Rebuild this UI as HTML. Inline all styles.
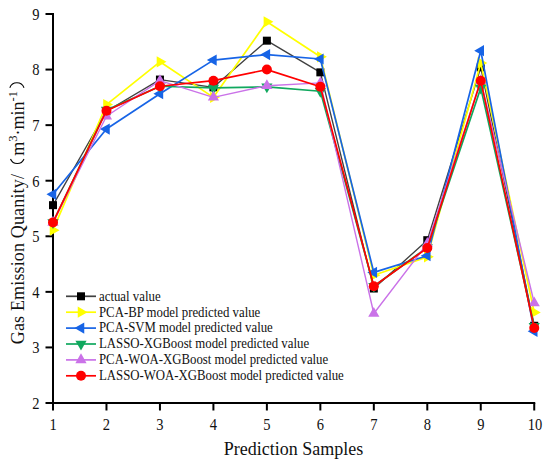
<!DOCTYPE html>
<html><head><meta charset="utf-8"><style>
html,body{margin:0;padding:0;background:#fff;}
svg{display:block;font-family:"Liberation Serif",serif;}
text{fill:#111;}
</style></head><body>
<svg width="550" height="465" viewBox="0 0 550 465">
<line x1="53.0" y1="13.0" x2="53.0" y2="404.0" stroke="#000" stroke-width="2"/>
<line x1="52.0" y1="403.0" x2="535.23" y2="403.0" stroke="#000" stroke-width="2"/>
<line x1="45.5" y1="403.00" x2="53.0" y2="403.00" stroke="#000" stroke-width="2"/>
<line x1="45.5" y1="347.43" x2="53.0" y2="347.43" stroke="#000" stroke-width="2"/>
<line x1="45.5" y1="291.86" x2="53.0" y2="291.86" stroke="#000" stroke-width="2"/>
<line x1="45.5" y1="236.29" x2="53.0" y2="236.29" stroke="#000" stroke-width="2"/>
<line x1="45.5" y1="180.71" x2="53.0" y2="180.71" stroke="#000" stroke-width="2"/>
<line x1="45.5" y1="125.14" x2="53.0" y2="125.14" stroke="#000" stroke-width="2"/>
<line x1="45.5" y1="69.57" x2="53.0" y2="69.57" stroke="#000" stroke-width="2"/>
<line x1="45.5" y1="14.00" x2="53.0" y2="14.00" stroke="#000" stroke-width="2"/>
<line x1="53.00" y1="403.0" x2="53.00" y2="410.5" stroke="#000" stroke-width="2"/>
<line x1="106.47" y1="403.0" x2="106.47" y2="410.5" stroke="#000" stroke-width="2"/>
<line x1="159.94" y1="403.0" x2="159.94" y2="410.5" stroke="#000" stroke-width="2"/>
<line x1="213.41" y1="403.0" x2="213.41" y2="410.5" stroke="#000" stroke-width="2"/>
<line x1="266.88" y1="403.0" x2="266.88" y2="410.5" stroke="#000" stroke-width="2"/>
<line x1="320.35" y1="403.0" x2="320.35" y2="410.5" stroke="#000" stroke-width="2"/>
<line x1="373.82" y1="403.0" x2="373.82" y2="410.5" stroke="#000" stroke-width="2"/>
<line x1="427.29" y1="403.0" x2="427.29" y2="410.5" stroke="#000" stroke-width="2"/>
<line x1="480.76" y1="403.0" x2="480.76" y2="410.5" stroke="#000" stroke-width="2"/>
<line x1="534.23" y1="403.0" x2="534.23" y2="410.5" stroke="#000" stroke-width="2"/>
<text transform="translate(35.8,408.80) scale(0.88,1)" text-anchor="middle" font-size="16.5">2</text>
<text transform="translate(35.8,353.23) scale(0.88,1)" text-anchor="middle" font-size="16.5">3</text>
<text transform="translate(35.8,297.66) scale(0.88,1)" text-anchor="middle" font-size="16.5">4</text>
<text transform="translate(35.8,242.09) scale(0.88,1)" text-anchor="middle" font-size="16.5">5</text>
<text transform="translate(35.8,186.51) scale(0.88,1)" text-anchor="middle" font-size="16.5">6</text>
<text transform="translate(35.8,130.94) scale(0.88,1)" text-anchor="middle" font-size="16.5">7</text>
<text transform="translate(35.8,75.37) scale(0.88,1)" text-anchor="middle" font-size="16.5">8</text>
<text transform="translate(35.8,19.80) scale(0.88,1)" text-anchor="middle" font-size="16.5">9</text>
<text transform="translate(53.00,429.6) scale(0.88,1)" text-anchor="middle" font-size="16.5">1</text>
<text transform="translate(106.47,429.6) scale(0.88,1)" text-anchor="middle" font-size="16.5">2</text>
<text transform="translate(159.94,429.6) scale(0.88,1)" text-anchor="middle" font-size="16.5">3</text>
<text transform="translate(213.41,429.6) scale(0.88,1)" text-anchor="middle" font-size="16.5">4</text>
<text transform="translate(266.88,429.6) scale(0.88,1)" text-anchor="middle" font-size="16.5">5</text>
<text transform="translate(320.35,429.6) scale(0.88,1)" text-anchor="middle" font-size="16.5">6</text>
<text transform="translate(373.82,429.6) scale(0.88,1)" text-anchor="middle" font-size="16.5">7</text>
<text transform="translate(427.29,429.6) scale(0.88,1)" text-anchor="middle" font-size="16.5">8</text>
<text transform="translate(480.76,429.6) scale(0.88,1)" text-anchor="middle" font-size="16.5">9</text>
<text transform="translate(535.03,429.6) scale(0.88,1)" text-anchor="middle" font-size="16.5">10</text>
<text x="293.6" y="455" text-anchor="middle" font-size="18">Prediction Samples</text>
<text transform="translate(23.9,344.20) rotate(-90)" font-size="18" textLength="170.1" lengthAdjust="spacing">Gas Emission Quanity/</text>
<path d="M10.5,159 A7.3,7.3 0 0 0 24,159" fill="none" stroke="#000" stroke-width="1.1"/>
<text transform="translate(23.9,155.80) rotate(-90)" font-size="18" >m<tspan dy="-7.1" font-size="12.5">3</tspan><tspan dy="7.1">·min</tspan><tspan dy="-7.1" font-size="12.5">-1</tspan></text>
<path d="M9.8,87.7 A7.6,7.6 0 0 1 24,87.7" fill="none" stroke="#000" stroke-width="1.1"/>
<line x1="66" y1="296.30" x2="96" y2="296.30" stroke="#404040" stroke-width="1.7"/>
<rect x="77.00" y="292.30" width="8" height="8" fill="#000000"/>
<text x="99" y="300.60" font-size="13.6" textLength="61.6" lengthAdjust="spacingAndGlyphs">actual value</text>
<line x1="66" y1="312.20" x2="96" y2="312.20" stroke="#FFFF00" stroke-width="1.7"/>
<polygon points="87.53,312.20 77.73,306.60 77.73,317.80" fill="#FFFF00"/>
<text x="99" y="316.50" font-size="13.6" textLength="161.3" lengthAdjust="spacingAndGlyphs">PCA-BP model predicted value</text>
<line x1="66" y1="328.10" x2="96" y2="328.10" stroke="#1764E6" stroke-width="1.7"/>
<polygon points="74.47,328.10 84.27,322.50 84.27,333.70" fill="#1764E6"/>
<text x="99" y="332.40" font-size="13.6" textLength="173.8" lengthAdjust="spacingAndGlyphs">PCA-SVM model predicted value</text>
<line x1="66" y1="344.00" x2="96" y2="344.00" stroke="#10A85E" stroke-width="1.7"/>
<polygon points="81.00,350.53 75.40,340.73 86.60,340.73" fill="#10A85E"/>
<text x="99" y="348.30" font-size="13.6" textLength="210.1" lengthAdjust="spacingAndGlyphs">LASSO-XGBoost model predicted value</text>
<line x1="66" y1="359.90" x2="96" y2="359.90" stroke="#CA72E8" stroke-width="1.7"/>
<polygon points="81.00,353.37 75.40,363.17 86.60,363.17" fill="#CA72E8"/>
<text x="99" y="364.20" font-size="13.6" textLength="229.2" lengthAdjust="spacingAndGlyphs">PCA-WOA-XGBoost model predicted value</text>
<line x1="66" y1="375.80" x2="96" y2="375.80" stroke="#FF0000" stroke-width="1.7"/>
<circle cx="81.00" cy="375.80" r="5" fill="#FF0000"/>
<text x="99" y="380.10" font-size="13.6" textLength="244.8" lengthAdjust="spacingAndGlyphs">LASSO-WOA-XGBoost model predicted value</text>
<polyline points="53.00,205.17 106.47,111.25 159.94,79.57 213.41,87.35 266.88,40.67 320.35,72.35 373.82,288.52 427.29,240.18 480.76,67.35 534.23,325.76" fill="none" stroke="#404040" stroke-width="1.35" stroke-linejoin="round"/>
<rect x="49.00" y="201.17" width="8" height="8" fill="#000000"/>
<rect x="102.47" y="107.25" width="8" height="8" fill="#000000"/>
<rect x="155.94" y="75.57" width="8" height="8" fill="#000000"/>
<rect x="209.41" y="83.35" width="8" height="8" fill="#000000"/>
<rect x="262.88" y="36.67" width="8" height="8" fill="#000000"/>
<rect x="316.35" y="68.35" width="8" height="8" fill="#000000"/>
<rect x="369.82" y="284.52" width="8" height="8" fill="#000000"/>
<rect x="423.29" y="236.18" width="8" height="8" fill="#000000"/>
<rect x="476.76" y="63.35" width="8" height="8" fill="#000000"/>
<rect x="530.23" y="321.76" width="8" height="8" fill="#000000"/>
<polyline points="53.00,230.17 106.47,104.58 159.94,61.79 213.41,97.36 266.88,21.78 320.35,56.79 373.82,275.19 427.29,256.85 480.76,62.90 534.23,312.42" fill="none" stroke="#FFFF00" stroke-width="1.7" stroke-linejoin="round"/>
<polygon points="59.53,230.17 49.73,224.57 49.73,235.77" fill="#FFFF00"/>
<polygon points="113.00,104.58 103.20,98.98 103.20,110.18" fill="#FFFF00"/>
<polygon points="166.47,61.79 156.67,56.19 156.67,67.39" fill="#FFFF00"/>
<polygon points="219.94,97.36 210.14,91.76 210.14,102.96" fill="#FFFF00"/>
<polygon points="273.41,21.78 263.61,16.18 263.61,27.38" fill="#FFFF00"/>
<polygon points="326.88,56.79 317.08,51.19 317.08,62.39" fill="#FFFF00"/>
<polygon points="380.35,275.19 370.55,269.59 370.55,280.79" fill="#FFFF00"/>
<polygon points="433.82,256.85 424.02,251.25 424.02,262.45" fill="#FFFF00"/>
<polygon points="487.29,62.90 477.49,57.30 477.49,68.50" fill="#FFFF00"/>
<polygon points="540.76,312.42 530.96,306.82 530.96,318.02" fill="#FFFF00"/>
<polyline points="53.00,194.33 106.47,129.03 159.94,93.74 213.41,60.12 266.88,54.57 320.35,59.01 373.82,272.41 427.29,255.74 480.76,50.68 534.23,331.31" fill="none" stroke="#1764E6" stroke-width="1.7" stroke-linejoin="round"/>
<polygon points="46.47,194.33 56.27,188.73 56.27,199.93" fill="#1764E6"/>
<polygon points="99.94,129.03 109.74,123.43 109.74,134.63" fill="#1764E6"/>
<polygon points="153.41,93.74 163.21,88.14 163.21,99.34" fill="#1764E6"/>
<polygon points="206.88,60.12 216.68,54.52 216.68,65.72" fill="#1764E6"/>
<polygon points="260.35,54.57 270.15,48.97 270.15,60.17" fill="#1764E6"/>
<polygon points="313.82,59.01 323.62,53.41 323.62,64.61" fill="#1764E6"/>
<polygon points="367.29,272.41 377.09,266.81 377.09,278.01" fill="#1764E6"/>
<polygon points="420.76,255.74 430.56,250.14 430.56,261.34" fill="#1764E6"/>
<polygon points="474.23,50.68 484.03,45.08 484.03,56.28" fill="#1764E6"/>
<polygon points="527.70,331.31 537.50,325.71 537.50,336.91" fill="#1764E6"/>
<polyline points="53.00,222.39 106.47,110.14 159.94,86.24 213.41,87.91 266.88,86.80 320.35,91.24 373.82,286.30 427.29,247.40 480.76,87.91 534.23,326.31" fill="none" stroke="#10A85E" stroke-width="1.7" stroke-linejoin="round"/>
<polygon points="53.00,228.93 47.40,219.13 58.60,219.13" fill="#10A85E"/>
<polygon points="106.47,116.67 100.87,106.87 112.07,106.87" fill="#10A85E"/>
<polygon points="159.94,92.78 154.34,82.98 165.54,82.98" fill="#10A85E"/>
<polygon points="213.41,94.44 207.81,84.64 219.01,84.64" fill="#10A85E"/>
<polygon points="266.88,93.33 261.28,83.53 272.48,83.53" fill="#10A85E"/>
<polygon points="320.35,97.78 314.75,87.98 325.95,87.98" fill="#10A85E"/>
<polygon points="373.82,292.83 368.22,283.03 379.42,283.03" fill="#10A85E"/>
<polygon points="427.29,253.93 421.69,244.13 432.89,244.13" fill="#10A85E"/>
<polygon points="480.76,94.44 475.16,84.64 486.36,84.64" fill="#10A85E"/>
<polygon points="534.23,332.84 528.63,323.04 539.83,323.04" fill="#10A85E"/>
<polyline points="53.00,222.39 106.47,116.25 159.94,80.69 213.41,97.36 266.88,85.69 320.35,82.91 373.82,313.53 427.29,243.51 480.76,80.69 534.23,302.97" fill="none" stroke="#CA72E8" stroke-width="1.4" stroke-linejoin="round"/>
<polygon points="53.00,215.86 47.40,225.66 58.60,225.66" fill="#CA72E8"/>
<polygon points="106.47,109.72 100.87,119.52 112.07,119.52" fill="#CA72E8"/>
<polygon points="159.94,74.15 154.34,83.95 165.54,83.95" fill="#CA72E8"/>
<polygon points="213.41,90.82 207.81,100.62 219.01,100.62" fill="#CA72E8"/>
<polygon points="266.88,79.15 261.28,88.95 272.48,88.95" fill="#CA72E8"/>
<polygon points="320.35,76.38 314.75,86.18 325.95,86.18" fill="#CA72E8"/>
<polygon points="373.82,307.00 368.22,316.80 379.42,316.80" fill="#CA72E8"/>
<polygon points="427.29,236.98 421.69,246.78 432.89,246.78" fill="#CA72E8"/>
<polygon points="480.76,74.15 475.16,83.95 486.36,83.95" fill="#CA72E8"/>
<polygon points="534.23,296.44 528.63,306.24 539.83,306.24" fill="#CA72E8"/>
<polyline points="53.00,222.39 106.47,110.69 159.94,86.24 213.41,80.69 266.88,69.57 320.35,86.80 373.82,286.30 427.29,247.96 480.76,80.69 534.23,327.98" fill="none" stroke="#FF0000" stroke-width="1.7" stroke-linejoin="round"/>
<circle cx="53.00" cy="222.39" r="5" fill="#FF0000"/>
<circle cx="106.47" cy="110.69" r="5" fill="#FF0000"/>
<circle cx="159.94" cy="86.24" r="5" fill="#FF0000"/>
<circle cx="213.41" cy="80.69" r="5" fill="#FF0000"/>
<circle cx="266.88" cy="69.57" r="5" fill="#FF0000"/>
<circle cx="320.35" cy="86.80" r="5" fill="#FF0000"/>
<circle cx="373.82" cy="286.30" r="5" fill="#FF0000"/>
<circle cx="427.29" cy="247.96" r="5" fill="#FF0000"/>
<circle cx="480.76" cy="80.69" r="5" fill="#FF0000"/>
<circle cx="534.23" cy="327.98" r="5" fill="#FF0000"/>
</svg>
</body></html>
